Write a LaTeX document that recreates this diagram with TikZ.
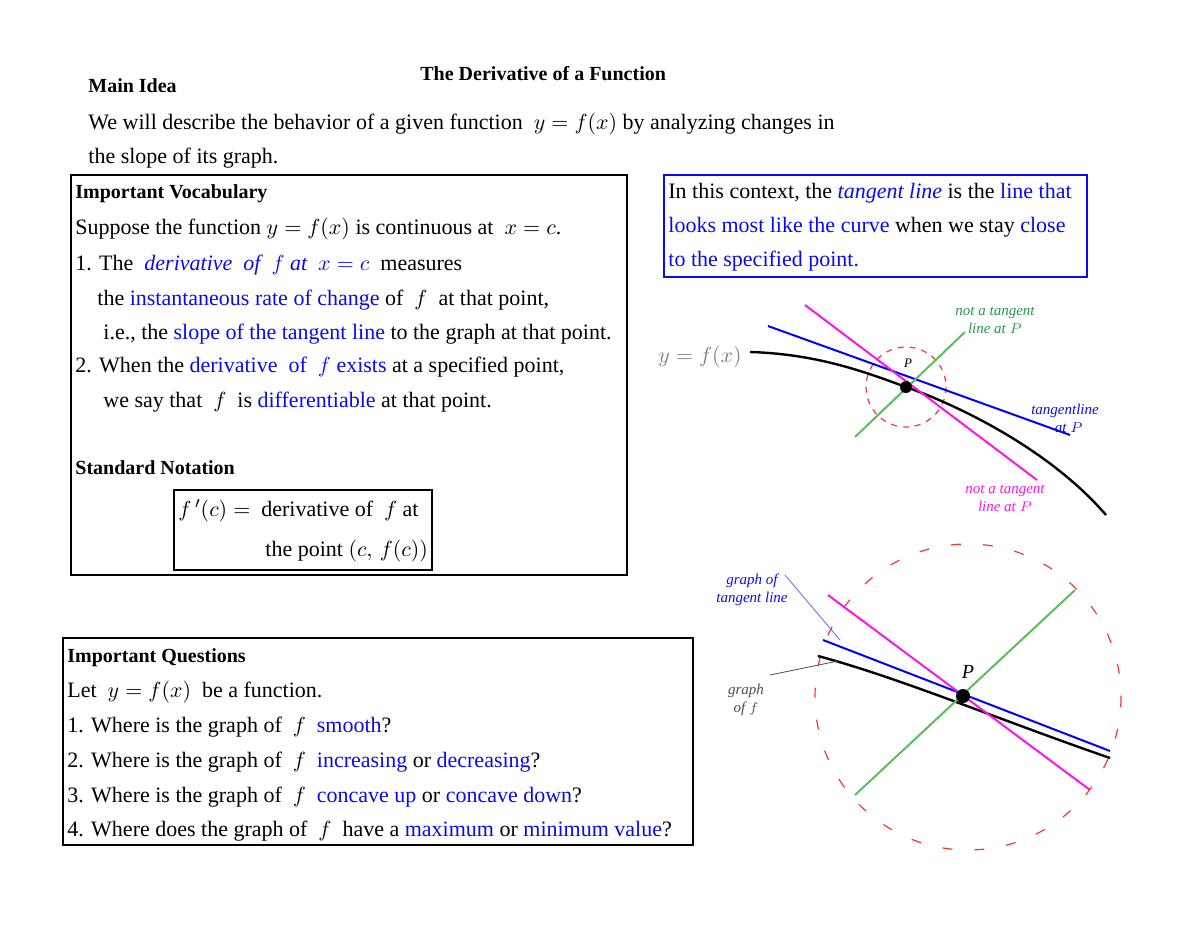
\documentclass[tikz,border=0pt]{standalone}
\usepackage{fontspec}
\setmainfont{Liberation Serif}
\begin{document}
\begin{tikzpicture}[x=0.5pt,y=-0.5pt,
  t/.style={anchor=base west,inner sep=0,font=\fontsize{11}{13}\selectfont},
  bx/.style={draw,line width=0.8pt},
  lab/.style={font=\fontsize{7.5}{9}\selectfont\itshape,align=center,inner sep=1pt},
  ]
\definecolor{tg}{RGB}{40,150,70}
\definecolor{lg}{RGB}{90,190,90}
\definecolor{mg}{RGB}{255,20,230}
\definecolor{bl}{RGB}{10,10,240}
\newcommand{\B}[1]{\textcolor{bl}{#1}}
\path[use as bounding box] (0,0) rectangle (1200,927);
\node[t,font=\fontsize{10}{12}\selectfont\bfseries] (title) at (420,80) {The Derivative of a Function};
\node[t,font=\fontsize{10}{12}\selectfont\bfseries] (mi) at (88,92) {Main Idea};
\node[t] (l1) at (88,129) {We will describe the behavior of a given function \ $y=f(x)$ by analyzing changes in};
\node[t] (l2) at (88,163) {the slope of its graph.};
% box 1
\draw[bx] (71,175) rectangle (627,575);
\node[t,font=\fontsize{10}{12}\selectfont\bfseries] (v0) at (75,198) {Important Vocabulary};
\node[t] (v1) at (75,234) {Suppose the function $y=f(x)$ is continuous at \ $x=c$.};
\node[t] (v2) at (75,270) {1. The \ \B{\itshape derivative \ of \ $f$ at \ $x=c$} \ measures};
\node[t] (v3) at (97,305) {the \B{instantaneous rate of change} of \ $f$ \ at that point,};
\node[t] (v4) at (103,339) {i.e., the \B{slope of the tangent line} to the graph at that point.};
\node[t] (v5) at (75,372) {2. When the \B{derivative \ of \ $f$ exists} at a specified point,};
\node[t] (v6) at (103,407) {we say that \ $f$ \ is \B{differentiable} at that point.};
\node[t,font=\fontsize{10}{12}\selectfont\bfseries] (sn) at (75,474) {Standard Notation};
\draw[bx] (174,490) rectangle (432,570);
\node[t] (n1) at (178,516) {$f\,'(c)=$ \ derivative of \ $f$ at};
\node[t] (n2) at (265,556) {the point $\bigl(c,\,f(c)\bigr)$};
% box 2
\draw[bl,line width=1.2pt] (664,175) rectangle (1087,277);
\node[t] (c1) at (668,198) {In this context, the \B{\itshape tangent line} is the \B{line that}};
\node[t] (c2) at (668,232) {\B{looks most like the curve} when we stay \B{close}};
\node[t] (c3) at (668,266) {\B{to the specified point.}};
% box 3
\draw[bx] (63,638) rectangle (693,845);
\node[t,font=\fontsize{10}{12}\selectfont\bfseries] (q0) at (67,662) {Important Questions};
\node[t] (q1) at (67,697) {Let \ $y=f(x)$ \ be a function.};
\node[t] (q2) at (67,732) {1. Where is the graph of \ $f$ \ \B{smooth}?};
\node[t] (q3) at (67,767) {2. Where is the graph of \ $f$ \ \B{increasing} or \B{decreasing}?};
\node[t] (q4) at (67,802) {3. Where is the graph of \ $f$ \ \B{concave up} or \B{concave down}?};
\node[t] (q5) at (67,836) {4. Where does the graph of \ $f$ \ have a \B{maximum} or \B{minimum value}?};
% top graph
\coordinate (P) at (906,387);
\node[t,text=gray] (yf) at (658,362) {$y=f(x)$};
\draw[red!80,dashed,line width=0.6pt] (P) circle (40);
\draw[line width=1.2pt] (750,352) .. controls (820,354) and (870,374) .. (P) .. controls (960,406) and (1050,450) .. (1106,515);
\draw[blue,line width=1pt] (768,326) -- (1070,435);
\draw[mg,line width=1pt] (805,305) -- (1037,480);
\draw[lg,line width=1pt] (855,437) -- (965,332);
\fill (P) circle (6);
\node[font=\fontsize{6.5}{8}\selectfont\itshape] (Pl) at (908,363) {P};
\node[lab,text=tg] (nt1) at (995,320) {not a tangent\\line at $P$};
\node[lab,text=bl] (tl) at (1065,418) {tangentline\\\ \ at $P$};
\node[lab,text=mg] (nt2) at (1005,498) {not a tangent\\line at $P$};
% bottom graph
\coordinate (Q) at (963,696);
\draw[red!80,dash pattern=on 5pt off 11pt,line width=0.6pt] (968,697) circle (153);
\draw[line width=1.2pt] (818,656) .. controls (900,678) and (1000,720) .. (1110,758);
\draw[blue,line width=1pt] (823,640) -- (1110,751);
\draw[mg,line width=1pt] (828,595) -- (1090,790);
\draw[lg,line width=1pt] (855,795) -- (1075,590);
\fill (Q) circle (7);
\node[font=\fontsize{10}{12}\selectfont\itshape] (Ql) at (968,672) {P};
\node[lab,text=bl] (gt) at (752,590) {graph of\\tangent line};
\draw[blue!60] (785,575) -- (840,640);
\node[lab,text=gray!60!black] (gf) at (746,700) {graph\\of $f$};
\draw[black!70] (770,675) -- (838,661);
\end{tikzpicture}
\end{document}
